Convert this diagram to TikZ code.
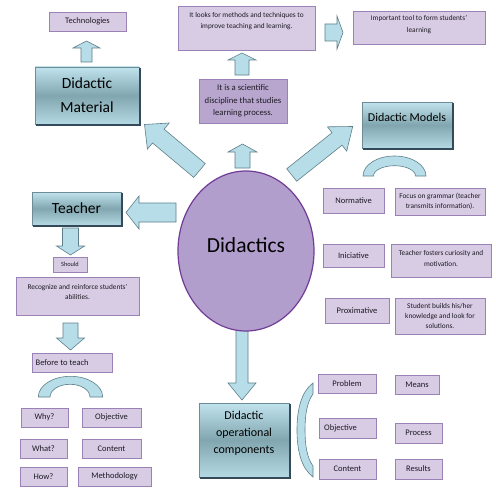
\documentclass[tikz,border=0pt]{standalone}
\usepackage{fontspec}
\setmainfont{Carlito}
\usetikzlibrary{calc,shapes.geometric}
\definecolor{plight}{HTML}{D8CCE4}
\definecolor{pdark}{HTML}{B9A6CE}
\definecolor{pbord}{HTML}{9A82B6}
\definecolor{cfill}{HTML}{B29ECC}
\definecolor{cbord}{HTML}{703C96}
\definecolor{afill}{HTML}{B7DEE8}
\definecolor{abord}{HTML}{5E7F8A}
\definecolor{gtop}{HTML}{C0E3ED}
\definecolor{gmid}{HTML}{82A6B0}
\definecolor{gbot}{HTML}{B5D9E3}
\definecolor{gbord}{HTML}{6E8C96}
\definecolor{gshad}{HTML}{34495A}
\definecolor{txtc}{HTML}{1C1A24}
\tikzset{
 lbox/.style={draw=pbord, fill=plight, line width=0.7pt, inner sep=0pt, align=center, text=txtc},
 dbox/.style={lbox, fill=pdark},
 gbox/.style={draw=gbord, line width=0.5pt, top color=gtop, bottom color=gbot, middle color=gmid, inner sep=0pt, align=center, text=black},
 barr/.style={draw=abord, fill=afill, line width=0.6pt, line join=miter},
 txt/.style={inner sep=0pt, align=center, text=txtc},
 fm/.style={font=\fontsize{8.5}{10}\selectfont},
}
\newcommand\blockarr[5]{%
 \coordinate (hb) at ($(#2)!#5!(#1)$);
 \draw[barr] ($(#1)!#3!90:(#2)$) -- ($(hb)!#3!90:(#2)$) -- ($(hb)!#4!90:(#2)$) -- (#2) -- ($(hb)!#4!-90:(#2)$) -- ($(hb)!#3!-90:(#2)$) -- ($(#1)!#3!-90:(#2)$) -- cycle;}
\newcommand\gshadow[1]{\draw[gshad, line width=1.6pt] ($(#1.north east)+(0.8,1)$) -- ($(#1.south east)+(0.8,0.8)$) -- ($(#1.south west)+(1,0.8)$);}
\begin{document}
\begin{tikzpicture}[x=1pt,y=-1pt]
\useasboundingbox (0,0) rectangle (495,495);
\fill[white] (0,0) rectangle (495,495);

% arrows
\coordinate (a1s) at (86.5,62); \coordinate (a1e) at (86.5,41);
\blockarr{a1s}{a1e}{5.5pt}{13.5pt}{7pt}
\coordinate (a2s) at (242,75); \coordinate (a2e) at (242,53);
\blockarr{a2s}{a2e}{7pt}{14pt}{7pt}
\coordinate (a3s) at (242.5,168); \coordinate (a3e) at (242.5,144);
\blockarr{a3s}{a3e}{7.5pt}{14.5pt}{8pt}
\coordinate (a4s) at (325,32.5); \coordinate (a4e) at (343,32.5);
\blockarr{a4s}{a4e}{8.5pt}{16.5pt}{6pt}
\coordinate (a5s) at (176,212.5); \coordinate (a5e) at (126,212.5);
\blockarr{a5s}{a5e}{9.5pt}{16.5pt}{13pt}
\coordinate (a6s) at (199.5,170.5); \coordinate (a6e) at (144.5,124.5);
\blockarr{a6s}{a6e}{9pt}{17pt}{18pt}
\coordinate (a7s) at (291.7,175); \coordinate (a7e) at (352.7,126.5);
\blockarr{a7s}{a7e}{8pt}{15.5pt}{20pt}
\coordinate (a8s) at (70.5,228); \coordinate (a8e) at (70.5,255);
\blockarr{a8s}{a8e}{8pt}{14pt}{9pt}
\coordinate (a9s) at (70.5,323); \coordinate (a9e) at (70.5,350);
\blockarr{a9s}{a9e}{7.5pt}{14pt}{12pt}
\coordinate (a10s) at (242,330); \coordinate (a10e) at (242,400);
\blockarr{a10s}{a10e}{6pt}{14pt}{17pt}

% arches and bracket
\draw[barr] (363,176) arc[start angle=180, end angle=0, x radius=31.5pt, y radius=20pt] -- (415.5,176) arc[start angle=0, end angle=180, x radius=21pt, y radius=10.3pt] -- cycle;
\draw[barr] (38.3,397) arc[start angle=180, end angle=0, x radius=32.2pt, y radius=20.7pt] -- (90,397) arc[start angle=0, end angle=180, x radius=20pt, y radius=12.7pt] -- cycle;
\draw[barr] (313,383) .. controls (301,392) and (297,410) .. (297,430) .. controls (297,450) and (301,468) .. (313,477) -- (313,466) .. controls (307,458) and (305,445) .. (305,430) .. controls (305,415) and (307,402) .. (313,394) -- cycle;

% circle
\node[draw=cbord, fill=cfill, line width=1.2pt, ellipse, minimum width=136pt, minimum height=160pt, inner sep=0pt] (did) at (246,251) {};
\node[txt, font=\fontsize{21.5}{24}\selectfont, text=black] (didt) at (246,245) {Didactics};

% top left
\node[lbox, fm, minimum width=77pt, minimum height=19pt] (tech) at (87.5,21.5) {Technologies};
\node[gbox, font=\fontsize{15.5}{24}\selectfont, minimum width=104pt, minimum height=57pt] (mat) at (87,95.5) {Didactic\\Material};
\gshadow{mat}

% top middle
\node[lbox, minimum width=137pt, minimum height=44pt] (looks) at (246.5,28) {};
\node[txt, font=\fontsize{7.3}{11}\selectfont] (lookst) at (246.5,21) {It looks for methods and techniques to\\improve teaching and learning.};
\node[lbox, minimum width=132pt, minimum height=33pt] (imp) at (419,27.5) {};
\node[txt, font=\fontsize{7.3}{12}\selectfont] (impt) at (419,25) {Important tool to form students'\\learning};
\node[dbox, font=\fontsize{8.7}{12.5}\selectfont, minimum width=88pt, minimum height=44pt] (sci) at (243,101) {It is a scientific\\discipline that studies\\learning process.};

% didactic models
\node[gbox, minimum width=90pt, minimum height=46pt] (models) at (407,125) {};
\gshadow{models}
\node[txt, text=black, font=\fontsize{12}{14}\selectfont] (modelst) at (407,117) {Didactic Models};

\node[lbox, fm, minimum width=61pt, minimum height=25pt] (norm) at (353.5,200.5) {Normative};
\node[lbox, font=\fontsize{7.3}{9.5}\selectfont, minimum width=90pt, minimum height=27pt] (focus) at (440,201.5) {Focus on grammar (teacher\\transmits information).};
\node[lbox, fm, minimum width=61pt, minimum height=23pt] (inic) at (353.5,255.5) {Iniciative};
\node[lbox, minimum width=100pt, minimum height=33pt] (fost) at (441,260.5) {};
\node[txt, font=\fontsize{7.3}{11.5}\selectfont] (fostt) at (441,258.5) {Teacher fosters curiosity and\\motivation.};
\node[lbox, fm, minimum width=64pt, minimum height=25pt] (prox) at (357,310.5) {Proximative};
\node[lbox, font=\fontsize{7.3}{10.3}\selectfont, minimum width=90pt, minimum height=36pt] (stud) at (440,316) {Student builds his/her\\knowledge and look for\\solutions.};

% teacher branch
\node[gbox, font=\fontsize{15.5}{18}\selectfont, minimum width=89pt, minimum height=33pt] (teacher) at (76.5,208.5) {Teacher};
\gshadow{teacher}
\node[lbox, font=\fontsize{6.3}{8}\selectfont, minimum width=34pt, minimum height=15pt] (should) at (70,264.5) {Should};
\node[lbox, minimum width=123pt, minimum height=38pt] (recog) at (77.5,296) {};
\node[txt, font=\fontsize{7.3}{10}\selectfont] (recogt) at (77.5,292) {Recognize and reinforce students'\\abilities.};
\node[lbox, minimum width=80pt, minimum height=19pt] (before) at (72,362.5) {};
\node[txt, fm, anchor=west] (beforet) at (35.5,362.5) {Before to teach};
\node[lbox, fm, minimum width=47pt, minimum height=19pt] (why) at (44.5,417.5) {Why?};
\node[lbox, fm, minimum width=59pt, minimum height=19pt] (obj) at (111.5,417.5) {Objective};
\node[lbox, fm, minimum width=47pt, minimum height=19pt] (what) at (43.5,448.5) {What?};
\node[lbox, fm, minimum width=59pt, minimum height=19pt] (cont) at (111.5,448.5) {Content};
\node[lbox, fm, minimum width=47pt, minimum height=19pt] (how) at (43.5,476.5) {How?};
\node[lbox, fm, minimum width=73pt, minimum height=19pt] (meth) at (114.5,476.5) {Methodology};

% operational components
\node[gbox, minimum width=90pt, minimum height=74pt] (opc) at (244,440) {};
\gshadow{opc}
\node[txt, text=black, font=\fontsize{12}{17}\selectfont] (opct) at (244,433) {Didactic\\operational\\components};
\node[lbox, fm, minimum width=58pt, minimum height=19pt] (prob) at (347,383.5) {Problem};
\node[lbox, fm, minimum width=44pt, minimum height=19pt] (means) at (417,384.5) {Means};
\node[lbox, minimum width=57pt, minimum height=20pt] (obj2) at (347.5,428) {};
\node[txt, fm, anchor=west] (obj2t) at (324,428) {Objective};
\node[lbox, fm, minimum width=47pt, minimum height=20pt] (proc) at (418.5,433) {Process};
\node[lbox, fm, minimum width=57pt, minimum height=20pt] (cont2) at (347.5,469) {Content};
\node[lbox, fm, minimum width=47pt, minimum height=20pt] (res) at (418.5,469) {Results};
\end{tikzpicture}
\end{document}
